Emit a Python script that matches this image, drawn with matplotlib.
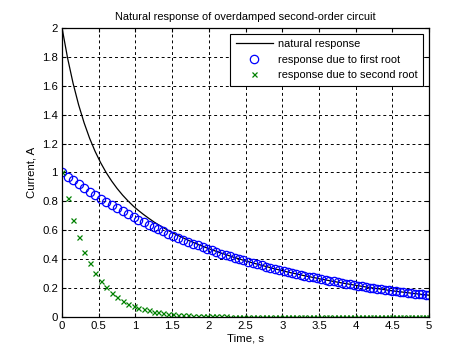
import numpy as np
import matplotlib
matplotlib.use("Agg")
import matplotlib.pyplot as plt

# time samples (s)
t = [0.0, 0.075, 0.15, 0.225, 0.3, 0.375, 0.45, 0.525, 0.6, 0.675, 0.75, 0.825, 0.9, 0.975,
     1.04, 1.11, 1.18, 1.25, 1.31, 1.38, 1.45, 1.51, 1.58, 1.65, 1.72, 1.78, 1.85, 1.92, 1.98,
     2.04, 2.10, 2.17, 2.23, 2.29, 2.35, 2.41, 2.47, 2.54, 2.60, 2.66, 2.72, 2.78, 2.84, 2.90, 2.96,
     3.02, 3.08, 3.13, 3.19, 3.25, 3.30, 3.36, 3.42, 3.47, 3.53, 3.59, 3.64, 3.70, 3.76, 3.81, 3.87,
     3.93, 3.98,
     4.03, 4.09, 4.14, 4.19, 4.24, 4.29, 4.34, 4.40, 4.45, 4.50, 4.55, 4.60, 4.65, 4.71, 4.76, 4.81,
     4.86, 4.91, 4.96, 5.00]

# response due to first root (blue circles)
first_root = [1.000, 0.972, 0.945, 0.918, 0.892, 0.867, 0.843, 0.819, 0.796, 0.774, 0.752, 0.731, 0.710, 0.690,
              0.673, 0.656, 0.639, 0.622, 0.608, 0.592, 0.576, 0.563, 0.549, 0.534, 0.520, 0.508, 0.495, 0.482, 0.471,
              0.461, 0.450, 0.438, 0.429, 0.419, 0.409, 0.400, 0.391, 0.381, 0.372, 0.364, 0.356, 0.348, 0.340, 0.332, 0.325,
              0.317, 0.310, 0.304, 0.298, 0.291, 0.285, 0.279, 0.273, 0.268, 0.261, 0.256, 0.251, 0.245, 0.240, 0.235, 0.230,
              0.225, 0.220,
              0.216, 0.211, 0.207, 0.203, 0.200, 0.196, 0.192, 0.188, 0.184, 0.181, 0.177, 0.174, 0.171, 0.167, 0.164, 0.161,
              0.158, 0.155, 0.152, 0.150]

# response due to second root (green crosses)
second_root = [1.000, 0.820, 0.672, 0.551, 0.452, 0.370, 0.303, 0.249, 0.204, 0.167, 0.137, 0.112, 0.092, 0.075,
               0.064, 0.053, 0.044, 0.036, 0.031, 0.026, 0.021, 0.018, 0.015, 0.013, 0.010, 0.009, 0.007, 0.006, 0.005,
               0.004, 0.004, 0.003, 0.003, 0.002, 0.002, 0.002, 0.001, 0.001, 0.001, 0.001, 0.001, 0.001, 0.0, 0.0, 0.0,
               0.0, 0.0, 0.0, 0.0, 0.0, 0.0, 0.0, 0.0, 0.0, 0.0, 0.0, 0.0, 0.0, 0.0, 0.0, 0.0,
               0.0, 0.0,
               0.0, 0.0, 0.0, 0.0, 0.0, 0.0, 0.0, 0.0, 0.0, 0.0, 0.0, 0.0, 0.0, 0.0, 0.0, 0.0,
               0.0, 0.0, 0.0, 0.0]

# natural response (black line)
natural = [2.000, 1.792, 1.617, 1.469, 1.344, 1.237, 1.146, 1.068, 1.000, 0.941, 0.889, 0.843, 0.802, 0.765,
           0.737, 0.709, 0.683, 0.658, 0.639, 0.618, 0.597, 0.581, 0.564, 0.547, 0.530, 0.517, 0.502, 0.488, 0.476,
           0.465, 0.454, 0.441, 0.432, 0.421, 0.411, 0.402, 0.392, 0.382, 0.373, 0.365, 0.357, 0.349, 0.340, 0.332, 0.325,
           0.317, 0.310, 0.304, 0.298, 0.291, 0.285, 0.279, 0.273, 0.268, 0.261, 0.256, 0.251, 0.245, 0.240, 0.235, 0.230,
           0.225, 0.220,
           0.216, 0.211, 0.207, 0.203, 0.200, 0.196, 0.192, 0.188, 0.184, 0.181, 0.177, 0.174, 0.171, 0.167, 0.164, 0.161,
           0.158, 0.155, 0.152, 0.150]

x_ticks = [0, 0.5, 1, 1.5, 2, 2.5, 3, 3.5, 4, 4.5, 5]
x_labels = ["0", "0.5", "1", "1.5", "2", "2.5", "3", "3.5", "4", "4.5", "5"]
y_ticks = [0, 0.2, 0.4, 0.6, 0.8, 1, 1.2, 1.4, 1.6, 1.8, 2]
y_labels = ["0", "0.2", "0.4", "0.6", "0.8", "1", "1.2", "1.4", "1.6", "1.8", "2"]


def main():
    plt.rcParams['font.family'] = ['Liberation Sans', 'DejaVu Sans']
    plt.rcParams['font.size'] = 8.2

    fig = plt.figure(figsize=(4.74, 3.56), dpi=100)
    ax = fig.add_axes([0.131, 0.110, 0.774, 0.811])

    ax.plot(t, natural, color="black", linewidth=0.9, label="natural response")
    ax.plot(t, first_root, "o", markersize=6.0, markerfacecolor="none",
            markeredgecolor=(0, 0, 1), markeredgewidth=0.9, label="response due to first root")
    ax.plot(t, second_root, "x", markersize=3.6, color=(0, 0.5, 0),
            markeredgewidth=0.9, label="response due to second root")

    ax.set_xlim(0, 5)
    ax.set_ylim(0, 2)
    ax.set_xticks(x_ticks)
    ax.set_xticklabels(x_labels)
    ax.set_yticks(y_ticks)
    ax.set_yticklabels(y_labels)
    ax.tick_params(direction="in", top=True, right=True, length=3, width=0.8, pad=3)
    ax.grid(True, color="black", linestyle=(0, (3, 3)), linewidth=0.7)
    for s in ax.spines.values():
        s.set_linewidth(0.9)

    ax.set_title("Natural response of overdamped second-order circuit", fontsize=7.9, pad=6)
    ax.set_xlabel("Time, s", labelpad=2)
    ax.set_ylabel("Current, A", labelpad=4)

    leg = ax.legend(loc="upper right", fontsize=7.9, fancybox=False, framealpha=1,
                    edgecolor="black", borderpad=0.5, labelspacing=0.5, handlelength=3.4,
                    handletextpad=0.5, borderaxespad=0.5)
    leg.get_frame().set_linewidth(0.8)

    plt.savefig("out.png", dpi=100)


if __name__ == "__main__":
    main()
